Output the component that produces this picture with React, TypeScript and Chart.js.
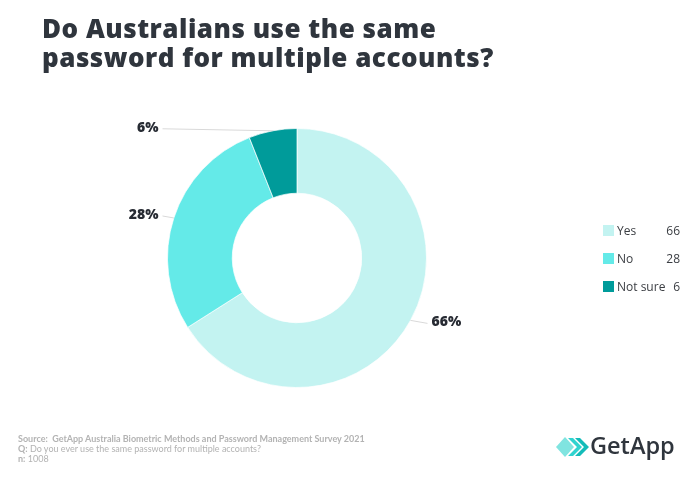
import React, { useEffect, useRef } from "react";
import { Chart, registerables } from "chart.js";

Chart.register(...registerables);

const categories = ["Yes", "No", "Not sure"];
const values = [66, 28, 6];
const colors = ["#C3F3F1", "#64EAE8", "#009B9A"];
const titleLines = ["Do Australians use the same", "password for multiple accounts?"];
const sourceText = "GetApp Australia Biometric Methods and Password Management Survey 2021";
const questionText = "Do you ever use the same password for multiple accounts?";
const sampleText = "1008";

const labelPlugin = {
  id: "outerLabels",
  afterDatasetsDraw(chart: any) {
    const ctx = chart.ctx;
    const meta = chart.getDatasetMeta(0);
    const data = chart.data.datasets[0].data as number[];
    const total = data.reduce((a, b) => a + b, 0);
    ctx.save();
    meta.data.forEach((arc: any, i: number) => {
      const { x, y, startAngle, endAngle, outerRadius } = arc.getProps(
        ["x", "y", "startAngle", "endAngle", "outerRadius"],
        true
      );
      const mid = (startAngle + endAngle) / 2;
      const px = x + Math.cos(mid) * outerRadius;
      const py = y + Math.sin(mid) * outerRadius;
      const right = Math.cos(mid) >= 0;
      const ly = right ? py + 2 : py - 3;
      const lx = right ? x + outerRadius + 5 : x - outerRadius - 9;
      ctx.strokeStyle = "#d9d9d9";
      ctx.lineWidth = 1;
      ctx.beginPath();
      ctx.moveTo(px, py);
      ctx.lineTo(right ? lx - 4 : lx + 4, ly + 1);
      ctx.stroke();
      ctx.fillStyle = "#272b33";
      ctx.font = "800 14px 'Open Sans'";
      ctx.textBaseline = "middle";
      ctx.textAlign = right ? "left" : "right";
      const pct = Math.round((data[i] / total) * 100);
      ctx.fillText(pct + "%", lx, ly);
    });
    ctx.restore();
  },
};

export default function App() {
  const ref = useRef<HTMLCanvasElement>(null);
  useEffect(() => {
    document.body.style.margin = "0";
    const chart = new Chart(ref.current!, {
      type: "doughnut",
      data: {
        labels: categories,
        datasets: [
          {
            data: values,
            backgroundColor: colors,
            borderColor: "rgba(255,255,255,0.7)",
            borderWidth: 1,
          },
        ],
      },
      options: {
        animation: false,
        responsive: false,
        cutout: "50%",
        layout: { padding: { left: 167, right: 273, top: 128, bottom: 90 } },
        plugins: { legend: { display: false }, tooltip: { enabled: false } },
      },
      plugins: [labelPlugin],
    });
    return () => chart.destroy();
  }, []);

  const footStyle: React.CSSProperties = {
    position: "absolute",
    left: 18,
    fontFamily: "Lato",
    fontSize: 9,
    lineHeight: "10px",
    color: "#b3b3b3",
    whiteSpace: "nowrap",
  };

  return (
    <div style={{ position: "absolute", left: 0, top: 0, width: 700, height: 478, background: "#fff", overflow: "hidden" }}>
      <canvas ref={ref} width={700} height={478} style={{ position: "absolute", left: 0, top: 0 }} />
      <div
        style={{
          position: "absolute",
          left: 42,
          top: 14,
          fontFamily: "'Open Sans'",
          fontWeight: 800,
          fontSize: 26,
          letterSpacing: "0.5px",
          lineHeight: "29px",
          color: "#2f353d",
          whiteSpace: "nowrap",
        }}
      >
        {titleLines.map((t, i) => (
          <div key={i}>{t}</div>
        ))}
      </div>
      {categories.map((c, i) => (
        <div
          key={c}
          style={{
            position: "absolute",
            left: 603,
            top: 223 + i * 28,
            width: 77,
            height: 16,
            fontFamily: "'Open Sans'",
            fontSize: 12,
            lineHeight: "16px",
            color: "#3a3d42",
          }}
        >
          <span
            style={{
              position: "absolute",
              left: 0,
              top: 2,
              width: 11,
              height: 11,
              background: colors[i],
            }}
          />
          <span style={{ position: "absolute", left: 14 }}>{c}</span>
          <span style={{ position: "absolute", right: 0 }}>{values[i]}</span>
        </div>
      ))}
      <div style={{ ...footStyle, top: 434, fontWeight: 700 }}>
        Source:&nbsp; {sourceText}
      </div>
      <div style={{ ...footStyle, top: 444 }}>
        <b>Q:</b> {questionText}
      </div>
      <div style={{ ...footStyle, top: 454 }}>
        <b>n:</b> {sampleText}
      </div>
      <svg width={36} height={24} style={{ position: "absolute", left: 555, top: 435 }}>
        <polygon points="1,12 10,2 19,12 10,22" fill="#80E4E0" />
        <polygon points="13,3 18,3 27,12 18,21 13,21 22,12" fill="#2FD3CF" />
        <polygon points="20,3 25,3 34,12 25,21 20,21 29,12" fill="#13BCB9" />
      </svg>
      <div
        style={{
          position: "absolute",
          left: 590,
          top: 430,
          fontFamily: "'Open Sans'",
          fontWeight: 600,
          fontSize: 23.5,
          lineHeight: "30px",
          color: "#2f353d",
        }}
      >
        GetApp
      </div>
    </div>
  );
}
